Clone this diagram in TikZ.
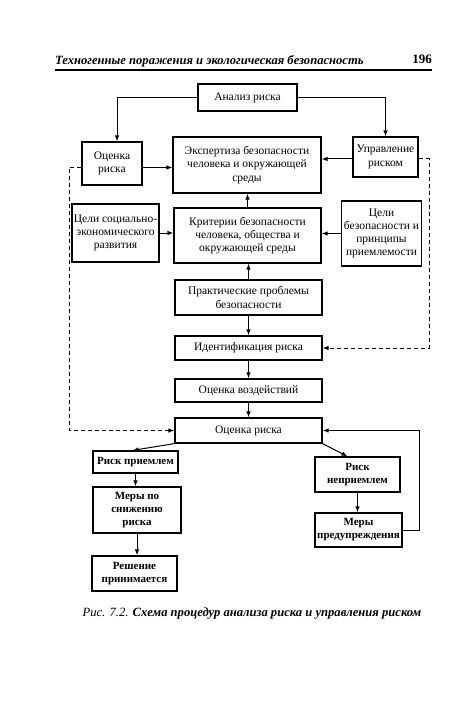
\documentclass[tikz,border=0pt]{standalone}
\usepackage{fontspec}
\setmainfont{Liberation Serif}
\usetikzlibrary{arrows.meta,calc}
\begin{document}
\begin{tikzpicture}[x=1pt,y=-1pt,
  box/.style={draw,line width=1.2pt,inner sep=0.5pt,align=center,font=\fontsize{11.5}{13.3}\selectfont},
  bbox/.style={box,font=\fontsize{11}{13}\selectfont\bfseries},
  arr/.style={line width=1pt,-{Latex[length=6pt,width=4.5pt]}},
  dsh/.style={arr,dash pattern=on 4pt off 3pt}]
\useasboundingbox (0,0) rectangle (474,711);
% header
\node[anchor=base west,inner sep=0,font=\fontsize{12.6}{14}\selectfont\bfseries\itshape] (hd) at (55,65) {Техногенные поражения и экологическая безопасность};
\node[anchor=base east,inner sep=0,font=\fontsize{13}{15}\selectfont\bfseries] (pg) at (432,64) {196};
\coordinate (r1) at (55,70);
\coordinate (r2) at (432,70);
\draw[line width=1.2pt] (r1) -- (r2);
% boxes
\node[box,minimum width=99,minimum height=27] (ana) at (247.5,97.5) {Анализ риска};
\node[box,minimum width=60,minimum height=43] (ocr1) at (112,163.5) {Оценка\\риска};
\node[box,minimum width=148,minimum height=56] (exp) at (247,165) {Экспертиза безопасности\\человека и окружающей\\среды};
\node[box,minimum width=65,minimum height=40] (upr) at (385.5,157) {Управление\\риском};
\node[box,minimum width=87,minimum height=58] (cel1) at (115.5,233) {Цели социально-\\экономического\\развития};
\node[box,minimum width=147,minimum height=55] (krit) at (247.5,235.5) {Критерии безопасности\\человека, общества и\\окружающей среды};
\node[box,minimum width=80,minimum height=65] (cel2) at (381.5,233.5) {Цели\\безопасности и\\принципы\\приемлемости};
\node[box,minimum width=147,minimum height=35] (prak) at (248.5,297.5) {Практические проблемы\\безопасности};
\node[box,minimum width=147,minimum height=24] (ident) at (248.5,348) {Идентификация риска};
\node[box,minimum width=147,minimum height=23] (vozd) at (248.5,390.5) {Оценка воздействий};
\node[box,minimum width=147,minimum height=25] (ocr2) at (248.5,430.5) {Оценка риска};
\node[bbox,minimum width=85,minimum height=22] (prie) at (135.5,462) {Риск приемлем};
\node[bbox,minimum width=85,minimum height=35] (nepr) at (357.5,474.5) {Риск\\неприемлем};
\node[bbox,minimum width=88,minimum height=46] (mery1) at (137,510) {Меры по\\снижению\\риска};
\node[bbox,minimum width=87,minimum height=34] (mery2) at (358.5,530) {Меры\\предупреждения};
\node[bbox,minimum width=85,minimum height=35] (resh) at (134.5,573.5) {Решение\\принимается};
% caption
\node[anchor=base,inner sep=0,font=\fontsize{12.6}{14}\selectfont\itshape] (cap) at (252,616) {Рис. 7.2. \textbf{Схема процедур анализа риска и управления риском}};
% connectors
\draw[arr] (ana.west) -| ([xshift=5pt]ocr1.north);
\draw[arr] (ana.east) -| (upr.north);
\draw[arr] ([yshift=-4pt]ocr1.east) -- ([yshift=-4pt]ocr1.east -| exp.west);
\draw[arr] ([yshift=-2pt]upr.west) -- ([yshift=-2pt]upr.west -| exp.east);
\draw[arr] (krit.north) -- (krit.north |- exp.south);
\draw[arr] (cel1.east) -- (cel1.east -| krit.west);
\draw[arr] (cel2.west) -- (cel2.west -| krit.east);
\draw[arr] (prak.north) -- (prak.north |- krit.south);
\draw[arr] (prak.south) -- (prak.south |- ident.north);
\draw[arr] (ident.south) -- (ident.south |- vozd.north);
\draw[arr] (vozd.south) -- (vozd.south |- ocr2.north);
\draw[arr] (ocr2.south west) -- ([xshift=-3pt]prie.north);
\draw[arr] (ocr2.south east) -- ([xshift=-10pt]nepr.north);
\draw[arr] (prie.south) -- (prie.south |- mery1.north);
\draw[arr] (mery1.south) -- (mery1.south |- resh.north);
\draw[arr] (nepr.south) -- (nepr.south |- mery2.north);
\coordinate (rr) at (419,0);
\draw[arr] (mery2.east) -- (mery2.east -| rr) |- (ocr2.east);
\coordinate (dl) at (69,0);
\coordinate (dr) at (429,0);
\draw[dsh] ([yshift=-4pt]ocr1.west) -- ([yshift=-4pt]ocr1.west -| dl) |- (ocr2.west);
\draw[dsh] ([yshift=-2pt]upr.east) -- ([yshift=-2pt]upr.east -| dr) |- (ident.east);
\end{tikzpicture}
\end{document}
